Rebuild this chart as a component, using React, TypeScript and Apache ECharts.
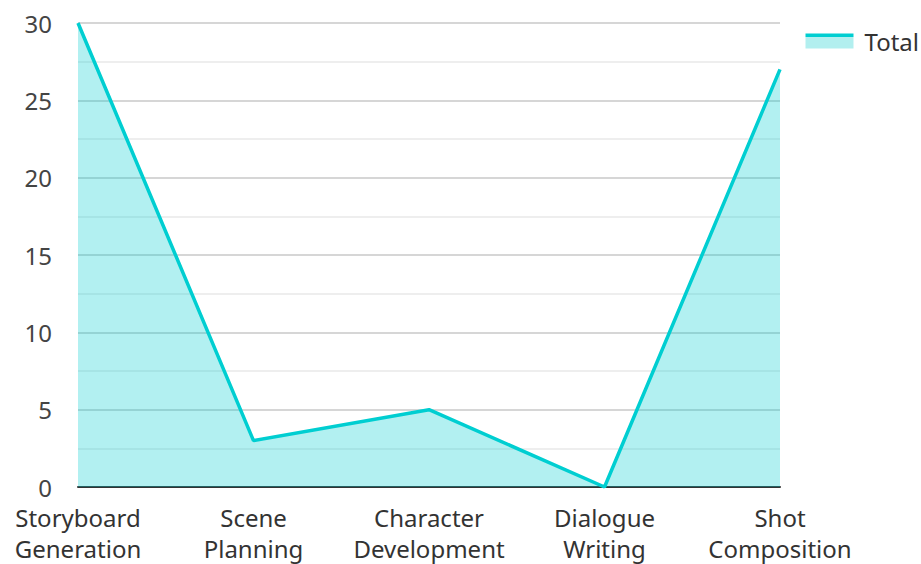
import React, { useEffect, useRef } from "react";
import * as echarts from "echarts";

const categories = ["Storyboard\nGeneration", "Scene\nPlanning", "Character\nDevelopment", "Dialogue\nWriting", "Shot\nComposition"];
const totalValues = [30, 3, 5, 0, 27];
const seriesName = "Total";

export default function App() {
  const ref = useRef<HTMLDivElement>(null);
  useEffect(() => {
    document.body.style.margin = "0";
    const chart = echarts.init(ref.current!, null, { renderer: "svg" });
    chart.setOption({
      animation: false,
      textStyle: { fontFamily: "Noto Sans" },
      legend: {
        right: -3,
        top: 24,
        icon: "rect",
        itemWidth: 48,
        itemHeight: 15,
        itemStyle: {
          color: {
            type: "linear", x: 0, y: 0, x2: 0, y2: 1,
            colorStops: [
              { offset: 0, color: "#00CED1" },
              { offset: 0.25, color: "#00CED1" },
              { offset: 0.25, color: "#b2efef" },
              { offset: 1, color: "#b2efef" },
            ],
          },
        },
        textStyle: { fontSize: 24, color: "#333", fontFamily: "Noto Sans", padding: [0, 0, 8, 6] },
        data: [seriesName],
      },
      grid: { left: 78, right: 141, top: 23, bottom: 74 },
      xAxis: {
        type: "category",
        data: categories,
        boundaryGap: false,
        axisLine: { show: true, lineStyle: { color: "#333", width: 2 } },
        axisTick: { show: false },
        axisLabel: { fontSize: 24, lineHeight: 31, color: "#333", margin: 15, interval: 0, fontFamily: "Noto Sans" },
        splitLine: { show: false },
      },
      yAxis: {
        type: "value",
        min: 0,
        max: 30,
        interval: 5,
        axisLine: { show: false },
        axisTick: { show: false },
        axisLabel: { fontSize: 24, lineHeight: 18, color: "#444", margin: 26, fontFamily: "Noto Sans", padding: [0, 0, 2, 0] },
        splitLine: { show: true, lineStyle: { color: "#c8c8c8", width: 1.5 } },
        minorTick: { show: false, splitNumber: 2 },
        minorSplitLine: { show: true, lineStyle: { color: "#e8e8e8", width: 1.5 } },
      },
      series: [
        {
          name: seriesName,
          type: "line",
          data: totalValues,
          symbol: "none",
          lineStyle: { color: "#00CED1", width: 3.5 },
          itemStyle: { color: "#00CED1" },
          areaStyle: { color: "#00CED1", opacity: 0.3 },
        },
      ],
    });
    return () => chart.dispose();
  }, []);
  return <div ref={ref} style={{ width: 921, height: 564 }} />;
}
